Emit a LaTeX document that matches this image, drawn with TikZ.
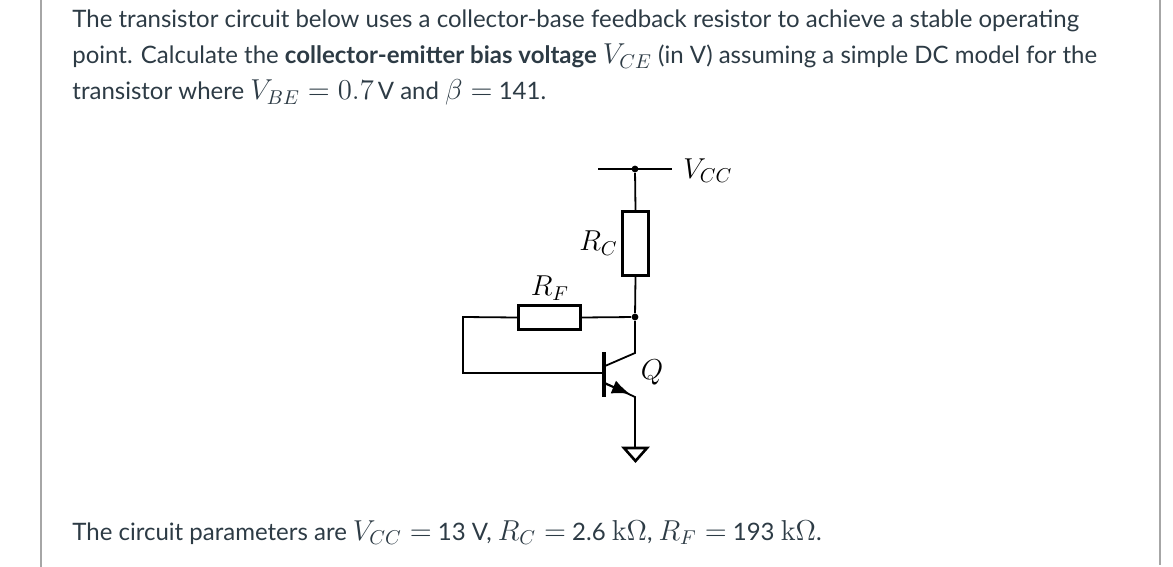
\documentclass[tikz,border=0pt]{standalone}
\usepackage{amsmath}
\usepackage[no-math]{fontspec}
\setmainfont{Lato}
\usetikzlibrary{arrows.meta}
\definecolor{txt}{HTML}{2D3B45}
\newcommand\mth[1]{{\fontsize{14.2}{14}\selectfont$#1$}}
\tikzset{
  para/.style={anchor=base west,inner sep=0pt,text=txt,font=\fontsize{12}{14}\selectfont},
  wire/.style={line width=0.9pt},
  res/.style={draw,line width=1.4pt,fill=white,minimum width=#1,inner sep=0pt},
  lbl/.style={inner sep=0pt,font=\Large},
  dot/.style={circle,fill,inner sep=0pt,minimum size=3.4pt}
}
\begin{document}
\begin{tikzpicture}[x=0.5pt,y=-0.5pt,>=latex]
   \useasboundingbox (0,0) rectangle (1173,567);
   % Frame lines
   \draw [gray!70,line width=0.8pt] (41,0) -- (41,567) (1160,0) -- (1160,565);
   % Question text
   \node [para] (l1) at (72,28) {The transistor circuit below uses a collector-base feedback resistor to achieve a stable operating};
   \node [para] (l2) at (72,64) {point. Calculate the \textbf{collector-emitter bias voltage} \mth{V_{CE}} (in V) assuming a simple DC model for the};
   \node [para] (l3) at (72,100) {transistor where \mth{V_{BE}=0.7}\,V and \mth{\beta=} 141.};
   \node [para] (l4) at (72,540) {The circuit parameters are \mth{V_{CC}=} 13 V, \mth{R_C=} 2.6 \mth{\mathrm{k\Omega}}, \mth{R_F=} 193 \mth{\mathrm{k\Omega}}.};
   % Supply
   \coordinate (vl) at (598,169);
   \coordinate (vr) at (672,169);
   \node [dot] (vcc) at (635,169) {};
   \node [lbl,anchor=west] (vcclbl) at (683,171) {$V_{CC}$};
   \draw [wire] (vl) -- (vr);
   % Resistors
   \node [res=13pt,minimum height=32pt] (rc) at (635.5,243.5) {};
   \node [lbl,anchor=east] at (618,243) {$R_C$};
   \node [res=31pt,minimum height=12pt] (rf) at (549.5,317.5) {};
   \node [lbl] at (550,288) {$R_F$};
   \node [dot] (nc) at (635,317) {};
   \draw [wire] (vcc) -- (rc.north) (rc.south) -- (nc) -- (rf.east);
   % Transistor
   \coordinate (bar1) at (604,352);
   \coordinate (bar2) at (604,397);
   \coordinate (col) at (635,353);
   \coordinate (emi) at (635,397);
   \coordinate (gnd) at (635,447);
   \coordinate (lt) at (463,317);
   \coordinate (lb) at (463,373);
   \draw [line width=1.8pt] (bar1) -- (bar2);
   \draw [wire] (rf.west) -- (lt) -- (lb) -- (604,373);
   \draw [wire] (605,366) -- (col) -- (nc);
   \draw [wire] (605,383) -- (emi) -- (gnd);
   \draw [-{Latex[length=9pt,width=7pt]},wire] (606,384) -- (630,394);
   \node [lbl] at (652,372) {$Q$};
   % Ground
   \draw [line width=1.3pt] (624,448) -- (647,448) -- (635.5,461) -- cycle;
\end{tikzpicture}
\end{document}
